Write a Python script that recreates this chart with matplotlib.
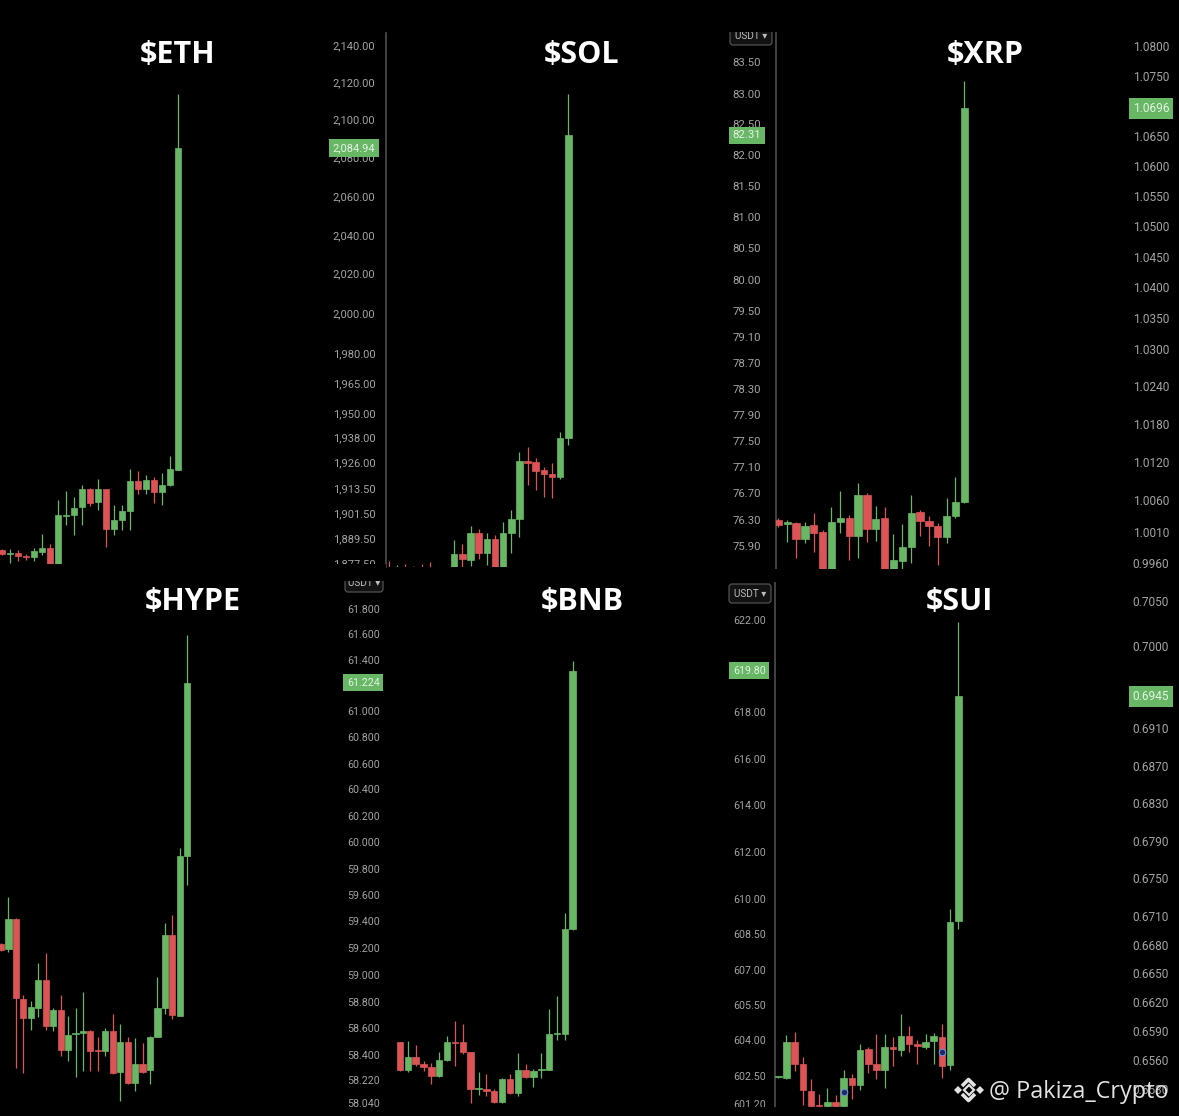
import numpy as np
import matplotlib
matplotlib.use("Agg")
import matplotlib.pyplot as plt
from matplotlib import transforms
from matplotlib.patches import Rectangle, FancyBboxPatch
from matplotlib.lines import Line2D

plt.rcParams["font.family"] = ["Roboto", "DejaVu Sans"]

W, H = 1179, 1116
GREEN = "#67b765"
RED = "#dc5456"
TICK = "#a3a3a3"
SPINE = "#4d4d4d"

# ---------------- data ----------------
# ETH
eth_ticks = [2140, 2120, 2100, 2080, 2060, 2040, 2020, 2000, 1980, 1965, 1950,
             1938, 1926, 1913.5, 1901.5, 1889.5, 1877.5]
eth_open = [1884.0, 1882.2, 1882.7, 1881.2, 1880.6, 1883.1, 1885.1, 1876.0, 1900.4, 1900.5,
            1904.3, 1912.9, 1906.9, 1913.3, 1894.1, 1898.3, 1902.7, 1917.2, 1912.9, 1917.3,
            1911.7, 1915.3, 1922.5]
eth_close = [1882.0, 1882.6, 1881.1, 1880.6, 1883.5, 1885.1, 1876.0, 1900.5, 1900.9, 1903.9,
             1912.9, 1906.4, 1913.2, 1894.1, 1898.3, 1902.7, 1917.0, 1912.9, 1917.3, 1911.7,
             1915.3, 1922.8, 2084.94]
eth_high = [1884.5, 1884.3, 1884.0, 1881.9, 1884.8, 1891.8, 1886.7, 1908.0, 1912.4, 1909.1,
            1915.3, 1913.7, 1918.2, 1913.3, 1905.6, 1905.3, 1923.0, 1922.0, 1920.1, 1918.8,
            1920.9, 1929.2, 2114.0]
eth_low = [1881.5, 1877.5, 1878.7, 1879.1, 1878.7, 1881.5, 1875.5, 1875.5, 1896.0, 1891.2,
           1896.0, 1904.8, 1903.2, 1885.5, 1891.2, 1893.6, 1893.6, 1910.8, 1910.8, 1906.4,
           1905.6, 1914.4, 1922.2]

# SOL
sol_ticks = [83.5, 83.0, 82.5, 82.0, 81.5, 81.0, 80.5, 80.0, 79.5, 79.1, 78.7, 78.3,
             77.9, 77.5, 77.1, 76.7, 76.3, 75.9]
sol_open = [75.45, 75.44, 75.47, 75.45, 75.46, 75.47, 75.44, 75.45, 75.55, 75.78, 75.693,
            76.098, 75.795, 76.012, 75.55, 76.098, 76.311, 77.200, 77.180, 77.059, 76.998,
            76.948, 77.537]
sol_close = [75.42, 75.46, 75.43, 75.42, 75.43, 75.44, 75.45, 75.48, 75.78, 75.704, 76.098,
             75.795, 76.012, 75.55, 76.098, 76.311, 77.195, 77.169, 77.048, 76.998, 76.948,
             77.544, 82.31]
sol_high = [75.68, 75.62, 75.64, 75.60, 75.63, 75.66, 75.52, 75.55, 75.997, 75.936, 76.209,
            76.164, 76.107, 76.068, 76.265, 76.452, 77.332, 77.412, 77.236, 77.109, 77.169,
            77.64, 83.00]
sol_low = [75.35, 75.38, 75.36, 75.35, 75.37, 75.38, 75.38, 75.40, 75.50, 75.55, 75.60,
           75.704, 75.617, 75.50, 75.50, 75.795, 76.047, 76.831, 76.745, 76.638, 76.629,
           76.917, 77.433]

# XRP
xrp_ticks = [1.08, 1.075, 1.065, 1.06, 1.055, 1.05, 1.045, 1.04, 1.035, 1.03, 1.024,
             1.018, 1.012, 1.006, 1.001, 0.996]
xrp_open = [1.00286, 1.00218, 1.00243, 0.99979, 1.00206, 1.00100, 0.9946, 1.00249, 1.00313,
            1.00032, 1.00682, 1.00138, 1.00313, 0.9946, 0.99624, 0.99862, 1.00408, 1.0027,
            1.00191, 1.00021, 1.00354, 1.00576]
xrp_close = [1.00206, 1.00249, 0.99979, 1.00191, 1.00084, 0.9946, 1.00259, 1.00313, 1.00032,
             1.00682, 1.00143, 1.00302, 0.9946, 0.99651, 0.99862, 1.00392, 1.00275, 1.00191,
             1.00021, 1.00354, 1.00576, 1.0696]
xrp_high = [1.00318, 1.00286, 1.00259, 1.00249, 1.00392, 1.00127, 1.00497, 1.00749, 1.00365,
            1.00866, 1.00708, 1.00508, 1.00487, 1.00059, 1.00218, 1.00682, 1.00444, 1.00354,
            1.00233, 1.0063, 1.00958, 1.07426]
xrp_low = [1.00175, 0.99941, 0.99678, 0.99916, 0.99783, 0.9940, 0.9940, 1.00075, 0.99651,
           0.99678, 0.99941, 0.99957, 0.9940, 0.9940, 0.99508, 0.99599, 1.00037, 0.99873,
           0.99572, 0.99916, 1.00313, 1.0055]

# HYPE
hype_ticks = [61.8, 61.6, 61.4, 61.0, 60.8, 60.6, 60.4, 60.2, 60.0, 59.8, 59.6, 59.4,
              59.2, 59.0, 58.8, 58.6, 58.4, 58.22, 58.04]
hype_open = [59.229, 59.195, 59.416, 58.821, 58.674, 58.755, 58.959, 58.616, 58.740, 58.434,
             58.556, 58.564, 58.577, 58.439, 58.429, 58.582, 58.276, 58.499, 58.198, 58.332,
             58.289, 58.538, 58.755, 59.299, 58.695, 59.894]
hype_close = [59.189, 59.416, 58.826, 58.674, 58.758, 58.959, 58.616, 58.740, 58.434, 58.551,
              58.564, 58.577, 58.429, 58.429, 58.582, 58.268, 58.499, 58.198, 58.332, 58.276,
              58.538, 58.755, 59.298, 58.700, 59.894, 61.224]
hype_high = [59.24, 59.582, 59.424, 58.846, 58.805, 59.089, 59.161, 58.749, 58.846, 58.695,
             58.749, 58.872, 58.584, 58.538, 58.603, 58.708, 58.629, 58.538, 58.525, 58.491,
             58.543, 58.985, 59.384, 59.45, 59.951, 61.597]
hype_low = [59.18, 59.168, 58.306, 58.268, 58.590, 58.682, 58.590, 58.577, 58.395, 58.357,
            58.243, 58.281, 58.281, 58.281, 58.395, 58.260, 58.054, 58.190, 58.135, 58.268,
            58.190, 58.533, 58.708, 58.668, 58.690, 59.675]

# BNB
bnb_ticks = [622.0, 620.0, 618.0, 616.0, 614.0, 612.0, 610.0, 608.5, 607.0, 605.5, 604.0,
             602.5, 601.2]
bnb_open = [603.912, 602.735, 603.279, 602.985, 602.882, 602.515, 603.176, 603.941, 603.912,
            603.5, 601.882, 601.913, 601.802, 601.327, 602.357, 601.723, 602.75, 602.468,
            602.75, 602.765, 604.267, 604.267, 608.735]
bnb_close = [602.765, 603.279, 602.985, 602.882, 602.515, 603.176, 603.912, 603.897, 603.5,
             601.913, 601.945, 601.834, 601.311, 602.357, 601.723, 602.75, 602.468, 602.721,
             602.794, 604.267, 604.312, 608.735, 619.80]
bnb_high = [603.941, 603.985, 603.794, 603.132, 603.059, 603.5, 604.208, 604.832, 604.683,
            603.5, 602.647, 602.574, 601.913, 602.389, 602.574, 603.471, 602.985, 602.809,
            603.471, 605.322, 605.868, 609.397, 620.219]
bnb_low = [602.691, 602.662, 602.912, 602.691, 602.151, 602.468, 603.132, 602.912, 603.426,
           601.279, 601.628, 601.596, 601.279, 601.279, 601.676, 601.596, 602.421, 601.993,
           602.389, 602.765, 604.015, 604.015, 608.66]

# SUI
sui_ticks = [0.705, 0.700, 0.691, 0.687, 0.683, 0.679, 0.675, 0.671, 0.668, 0.665, 0.662,
             0.659, 0.656, 0.653]
sui_open = [0.65425, 0.65412, 0.65792, 0.65564, 0.65286, 0.65141, 0.6513, 0.6517, 0.6513,
            0.65412, 0.6534, 0.65719, 0.65557, 0.65502, 0.65737, 0.65708, 0.65857, 0.65774,
            0.65737, 0.65802, 0.65839, 0.6555, 0.67046]
sui_close = [0.65435, 0.65792, 0.65564, 0.65293, 0.65123, 0.65123, 0.65166, 0.6513, 0.65412,
             0.65347, 0.65708, 0.65564, 0.65502, 0.65737, 0.65716, 0.65857, 0.65766, 0.65745,
             0.65792, 0.65853, 0.65539, 0.67031, 0.6945]
sui_high = [0.6544, 0.65864, 0.65889, 0.65636, 0.65405, 0.6525, 0.65311, 0.65239, 0.65495,
            0.65459, 0.65766, 0.65737, 0.65871, 0.65871, 0.65846, 0.66081, 0.65954, 0.6581,
            0.65875, 0.65882, 0.65972, 0.67173, 0.7026]
sui_low = [0.6542, 0.65405, 0.65484, 0.65141, 0.65105, 0.6510, 0.6511, 0.6511, 0.6511,
           0.65195, 0.65296, 0.65466, 0.65405, 0.65315, 0.65539, 0.65647, 0.65683, 0.65564,
           0.65719, 0.65557, 0.65412, 0.65502, 0.66966]
sui_marks_idx = [8, 20]
sui_marks_val = [0.65268, 0.65683]

# --------------- layout (pixel rows of the price ticks, screenshot style) ---------------
eth_rows = [45.4, 82.5, 119.6, 157.5, 196.3, 234.8, 273.4, 313.3, 353.3, 383.5, 413.3,
            437.7, 462.7, 488.2, 513.3, 538.7, 563.4]
sol_rows = [62.5, 93.8, 123.6, 154.9, 185.8, 217.0, 248.3, 279.9, 311.5, 337.3, 362.8,
            389.0, 414.8, 440.9, 467.1, 493.3, 519.8, 546.4]
xrp_rows = [46.5, 76.3, 135.6, 165.8, 196.3, 226.5, 257.0, 287.5, 318.4, 349.0, 386.4,
            424.2, 462.0, 500.2, 531.6, 563.0]
hype_rows = [608.6, 634.4, 660.2, 711.4, 737.5, 763.6, 789.4, 815.8, 841.9, 868.7, 894.9,
             921.3, 948.1, 974.6, 1001.7, 1028.2, 1055.0, 1079.7, 1102.7]
bnb_rows = [619.8, 666.1, 712.4, 759.1, 805.4, 852.0, 898.7, 934.2, 969.7, 1005.2, 1040.4,
            1075.9, 1104.5]
sui_rows = [600.6, 645.6, 728.4, 765.7, 802.9, 840.5, 877.8, 915.8, 944.7, 973.2, 1002.1,
            1031.4, 1060.3, 1089.2]

fig = plt.figure(figsize=(W / 100, H / 100), dpi=100, facecolor="black")
PX = transforms.Affine2D().scale(1, -1).translate(0, H)


def piecewise(xs, ys):
    xs = np.asarray(xs, float)
    ys = np.asarray(ys, float)
    k = np.argsort(xs)
    xs, ys = xs[k], ys[k]
    s0 = (ys[1] - ys[0]) / (xs[1] - xs[0])
    s1 = (ys[-1] - ys[-2]) / (xs[-1] - xs[-2])

    def f(v):
        v = np.asarray(v, float)
        out = np.interp(v, xs, ys)
        out = np.where(v < xs[0], ys[0] + (v - xs[0]) * s0, out)
        out = np.where(v > xs[-1], ys[-1] + (v - xs[-1]) * s1, out)
        return out
    return f


def panel(box, ticks, rows, fmt, o, h, l, c, first_px, step, width=0.8, fs=8, spine=False):
    x0, y0, x1, y1 = box
    ax = fig.add_axes([x0 / W, 1 - y1 / H, (x1 - x0) / W, (y1 - y0) / H])
    ax.set_facecolor("black")
    neg = -np.asarray(rows, float)
    fwd = piecewise(ticks, neg)
    inv = piecewise(neg, ticks)
    ax.set_yscale("function", functions=(fwd, inv))
    ax.set_ylim(float(inv(-y1)), float(inv(-y0)))
    ax.set_xlim((x0 - first_px) / step, (x1 - first_px) / step)

    o, h, l, c = (np.asarray(a, float) for a in (o, h, l, c))
    idx = np.arange(len(o))
    col = np.where(c >= o, GREEN, RED)
    ax.vlines(idx, l, h, colors=col, lw=0.9, zorder=2)
    ax.bar(idx, c - o, bottom=o, width=width, color=col, edgecolor=col, lw=0.5, zorder=3)

    ax.yaxis.tick_right()
    ax.set_yticks(ticks, [fmt.format(t) for t in ticks])
    ax.set_xticks([])
    ax.tick_params(axis="y", length=0, pad=2, labelsize=fs, labelcolor=TICK)
    for s in ax.spines.values():
        s.set_visible(False)
    if spine:
        ax.spines["left"].set_visible(True)
        ax.spines["left"].set_color(SPINE)
        ax.spines["left"].set_linewidth(1.2)

    # last price tag
    tr = transforms.offset_copy(transforms.blended_transform_factory(ax.transAxes, ax.transData),
                                fig=fig, x=2.8, y=0, units="dots")
    ax.text(1, c[-1], fmt.format(c[-1]), transform=tr, ha="left", va="center", fontsize=fs,
            color="#e4f3e3", clip_on=False, zorder=6,
            bbox=dict(boxstyle="square,pad=0.35", fc=GREEN, ec="none"))
    return ax


panel((0, 35, 330, 564), eth_ticks, eth_rows, "{:,.2f}",
      eth_open, eth_high, eth_low, eth_close, 1.7, 8.0, width=0.74, fs=8)
panel((386, 33, 730, 567), sol_ticks, sol_rows, "{:.2f}",
      sol_open, sol_high, sol_low, sol_close, 389.0, 8.15, width=0.8, fs=8.2, spine=True)
panel((776, 33, 1130, 569), xrp_ticks, xrp_rows, "{:.4f}",
      xrp_open, xrp_high, xrp_low, xrp_close, 778.3, 8.857, width=0.82, fs=8.6, spine=True)
panel((0, 578, 344, 1107), hype_ticks, hype_rows, "{:.3f}",
      hype_open, hype_high, hype_low, hype_close, 1.0, 7.45, width=0.82, fs=7.7)
panel((386, 578, 730, 1107), bnb_ticks, bnb_rows, "{:.2f}",
      bnb_open, bnb_high, bnb_low, bnb_close, 400.0, 7.85, width=0.82, fs=7.7)
ax_sui = panel((775, 583, 1130, 1107), sui_ticks, sui_rows, "{:.4f}",
               sui_open, sui_high, sui_low, sui_close, 778.3, 8.18, width=0.8, fs=8.6, spine=True)
ax_sui.scatter(sui_marks_idx, sui_marks_val, s=22, c="#1b2a66", edgecolors="#6f8fd8",
               linewidths=0.8, zorder=5)


def usdt(x0, y0, x1, y1):
    fig.add_artist(FancyBboxPatch((x0, y0), x1 - x0, y1 - y0, boxstyle="round,pad=0,rounding_size=3",
                                  transform=PX, fc="#121212", ec="#5a5a5a", lw=0.8, zorder=8))
    fig.text((x0 + x1) / 2, (y0 + y1) / 2 + 0.5, "USDT \u25be", transform=PX, ha="center",
             va="center", fontsize=7.2, color="#bdbdbd", zorder=9)


usdt(730, 26, 772, 45)
usdt(345, 574, 383, 592)
usdt(729, 584, 771, 603)


def mask(x0, y0, x1, y1):
    fig.add_artist(Rectangle((x0, y0), x1 - x0, y1 - y0, transform=PX, fc="black",
                             ec="none", zorder=20))


mask(700, 0, 775, 32)
mask(0, 569, W, 578)
mask(325, 564, 386, 578)
mask(330, 569, 400, 581)
mask(0, 1107, W, H)

# titles
titles = [("$ETH", 178, 55), ("$SOL", 582, 55), ("$XRP", 985, 55),
          ("$HYPE", 193, 602), ("$BNB", 582, 602), ("$SUI", 959, 602)]
for name, tx, ty in titles:
    fig.text(tx, ty, name, transform=PX, ha="center", va="center", color="white",
             fontsize=22, fontweight="bold", family=["Open Sans", "DejaVu Sans"], zorder=25)

# watermark with a simple Binance-style mark
wm = dict(transform=PX, color="#e2e2e2", zorder=30, solid_capstyle="butt")
cx, cy = 968.5, 1090
fig.add_artist(Line2D([cx - 6.5, cx, cx + 6.5], [cy - 4, cy - 10.5, cy - 4], lw=2.6, **wm))
fig.add_artist(Line2D([cx - 6.5, cx, cx + 6.5], [cy + 4, cy + 10.5, cy + 4], lw=2.6, **wm))
fig.add_artist(Line2D([cx - 11], [cy], marker="D", ms=3.6, mew=0, ls="none", **wm))
fig.add_artist(Line2D([cx + 11], [cy], marker="D", ms=3.6, mew=0, ls="none", **wm))
fig.add_artist(Line2D([cx], [cy], marker="D", ms=5.0, mfc="black", mec="#e2e2e2", mew=1.6,
                      ls="none", transform=PX, zorder=30))
fig.text(989, 1098.5, "@ Pakiza_Crypto", transform=PX, ha="left", va="baseline",
         fontsize=16.8, color="#e2e2e2", family=["Open Sans", "DejaVu Sans"], zorder=30)

fig.savefig("out.png", dpi=100, facecolor="black")
